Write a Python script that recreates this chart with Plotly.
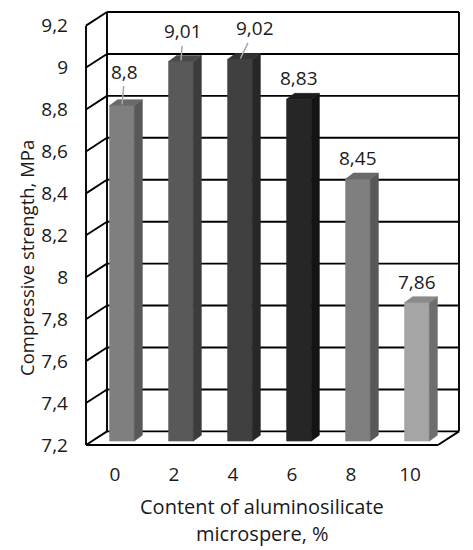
import plotly.graph_objects as go

# ---------------- data ----------------
categories = ["0", "2", "4", "6", "8", "10"]
values = [8.8, 9.01, 9.02, 8.83, 8.45, 7.86]
value_labels = ["8,8", "9,01", "9,02", "8,83", "8,45", "7,86"]
y_ticks = [7.2, 7.4, 7.6, 7.8, 8.0, 8.2, 8.4, 8.6, 8.8, 9.0, 9.2]
y_tick_labels = ["7,2", "7,4", "7,6", "7,8", "8", "8,2", "8,4", "8,6", "8,8", "9", "9,2"]
x_title_lines = ["Content of aluminosilicate", "microspere, %"]
y_title = "Compressive strength, MPa"

# ---------------- style / geometry ----------------
front_colors = ["#7f7f7f", "#595959", "#404040", "#262626", "#7f7f7f", "#a5a5a5"]
side_colors = ["#585858", "#3c3c3c", "#272727", "#141414", "#585858", "#6e6e6e"]
top_colors = ["#6a6a6a", "#4a4a4a", "#333333", "#1c1c1c", "#6a6a6a", "#8a8a8a"]

FONT = "Open Sans"
TXT = "#1a1a1a"
ymin, ymax = y_ticks[0], y_ticks[-1]
x_front_left = -0.61      # front-left edge of the 3D box (x units)
x_back_right = 5.712      # back-right edge of the back wall
wall_dx = 0.356           # depth offset of back wall (x units)
wall_dy = 0.065           # depth offset of back wall (y units)
bar_w = 0.42
bar_base_off = 0.019      # bars sit slightly behind the front floor edge
side_dx = 0.135
side_dy = 0.028
positions = list(range(len(categories)))

xr = [x_front_left - 2 / 59, x_back_right + 3 / 59]
yr = [ymin - 2 / 209.7, ymax + wall_dy + 2 / 209.7]

fig = go.Figure()

# ---------------- walls (shapes below traces) ----------------
LINE = dict(color="black", width=1.9)
shapes = []
xb0 = x_front_left + wall_dx
for t in y_ticks:
    shapes.append(dict(type="line", x0=xb0, x1=x_back_right, y0=t + wall_dy, y1=t + wall_dy,
                       line=LINE, layer="below"))
    shapes.append(dict(type="line", x0=x_front_left, x1=xb0, y0=t, y1=t + wall_dy,
                       line=LINE, layer="below"))
shapes.append(dict(type="line", x0=xb0, x1=xb0, y0=ymin + wall_dy, y1=ymax + wall_dy, line=LINE, layer="below"))
shapes.append(dict(type="line", x0=x_back_right, x1=x_back_right, y0=ymin + wall_dy, y1=ymax + wall_dy, line=LINE, layer="below"))
shapes.append(dict(type="line", x0=x_front_left, x1=x_front_left, y0=ymin, y1=ymax, line=LINE, layer="below"))
xf1 = x_back_right - wall_dx
shapes.append(dict(type="line", x0=x_front_left, x1=xf1, y0=ymin, y1=ymin, line=LINE, layer="below"))
shapes.append(dict(type="line", x0=xf1, x1=x_back_right, y0=ymin, y1=ymin + wall_dy, line=LINE, layer="below"))

# ---------------- 3D columns (front, side, top faces) ----------------
base = ymin + bar_base_off
for i, v in zip(positions, values):
    top = v + bar_base_off
    xl, xrgt = i - bar_w / 2, i + bar_w / 2
    faces = [
        ([xl, xrgt, xrgt, xl, xl], [base, base, top, top, base], front_colors[i]),
        ([xrgt, xrgt + side_dx, xrgt + side_dx, xrgt, xrgt],
         [base, base + side_dy, top + side_dy, top, base], side_colors[i]),
        ([xl, xrgt, xrgt + side_dx, xl + side_dx, xl],
         [top, top, top + side_dy, top + side_dy, top], top_colors[i]),
    ]
    for fx, fy, col in faces:
        fig.add_trace(go.Scatter(
            x=fx, y=fy, fill="toself", fillcolor=col, mode="lines",
            line=dict(width=0.6, color=col),
            hoverinfo="skip", showlegend=False,
        ))

# ---------------- data labels ----------------
leader = {0: (3, -34), 1: (2, -30), 2: (15, -31)}
annotations = []
for i, v, lab in zip(positions, values, value_labels):
    top = v + bar_base_off
    if i in leader:
        ax, ay = leader[i]
        annotations.append(dict(x=i, y=top, xref="x", yref="y", text=lab, showarrow=True,
                                arrowhead=0, arrowwidth=1.5, arrowcolor="#a6a6a6",
                                ax=ax, ay=ay, standoff=1,
                                font=dict(family=FONT, size=19, color=TXT)))
    else:
        annotations.append(dict(x=i, y=top, xref="x", yref="y", text=lab, showarrow=False,
                                yanchor="middle", yshift=21, xshift=0,
                                font=dict(family=FONT, size=19, color=TXT)))

# axis titles
annotations.append(dict(xref="paper", yref="paper", x=0.472, y=0, yanchor="middle",
                        yshift=-(506 - 447), text=x_title_lines[0], showarrow=False,
                        font=dict(family=FONT, size=20, color=TXT)))
annotations.append(dict(xref="paper", yref="paper", x=0.472, y=0, yanchor="middle",
                        yshift=-(533 - 447), text=x_title_lines[1], showarrow=False,
                        font=dict(family=FONT, size=20, color=TXT)))
annotations.append(dict(xref="paper", yref="paper", x=0, y=(447 - 258) / 437, xanchor="center",
                        yanchor="middle", xshift=-(84 - 26), text=y_title, textangle=-90,
                        showarrow=False, font=dict(family=FONT, size=18.5, color=TXT)))

fig.update_layout(
    width=473, height=550,
    margin=dict(l=84, r=11, t=10, b=103, pad=0),
    paper_bgcolor="white", plot_bgcolor="white",
    shapes=shapes, annotations=annotations,
    showlegend=False,
    xaxis=dict(range=xr, tickvals=positions, ticktext=categories, showgrid=False,
               zeroline=False, showline=False, ticks="", ticklabelshift=-7,
               ticklabelstandoff=14, tickfont=dict(family=FONT, size=19, color=TXT),
               fixedrange=True),
    yaxis=dict(range=yr, tickvals=y_ticks, ticktext=y_tick_labels, showgrid=False,
               zeroline=False, showline=False, ticks="", ticklabelstandoff=15,
               tickfont=dict(family=FONT, size=19, color=TXT), fixedrange=True),
)

fig.write_html("out.html", config={"displayModeBar": False},
               post_script="document.body.style.margin='0';document.body.style.overflow='hidden';")
